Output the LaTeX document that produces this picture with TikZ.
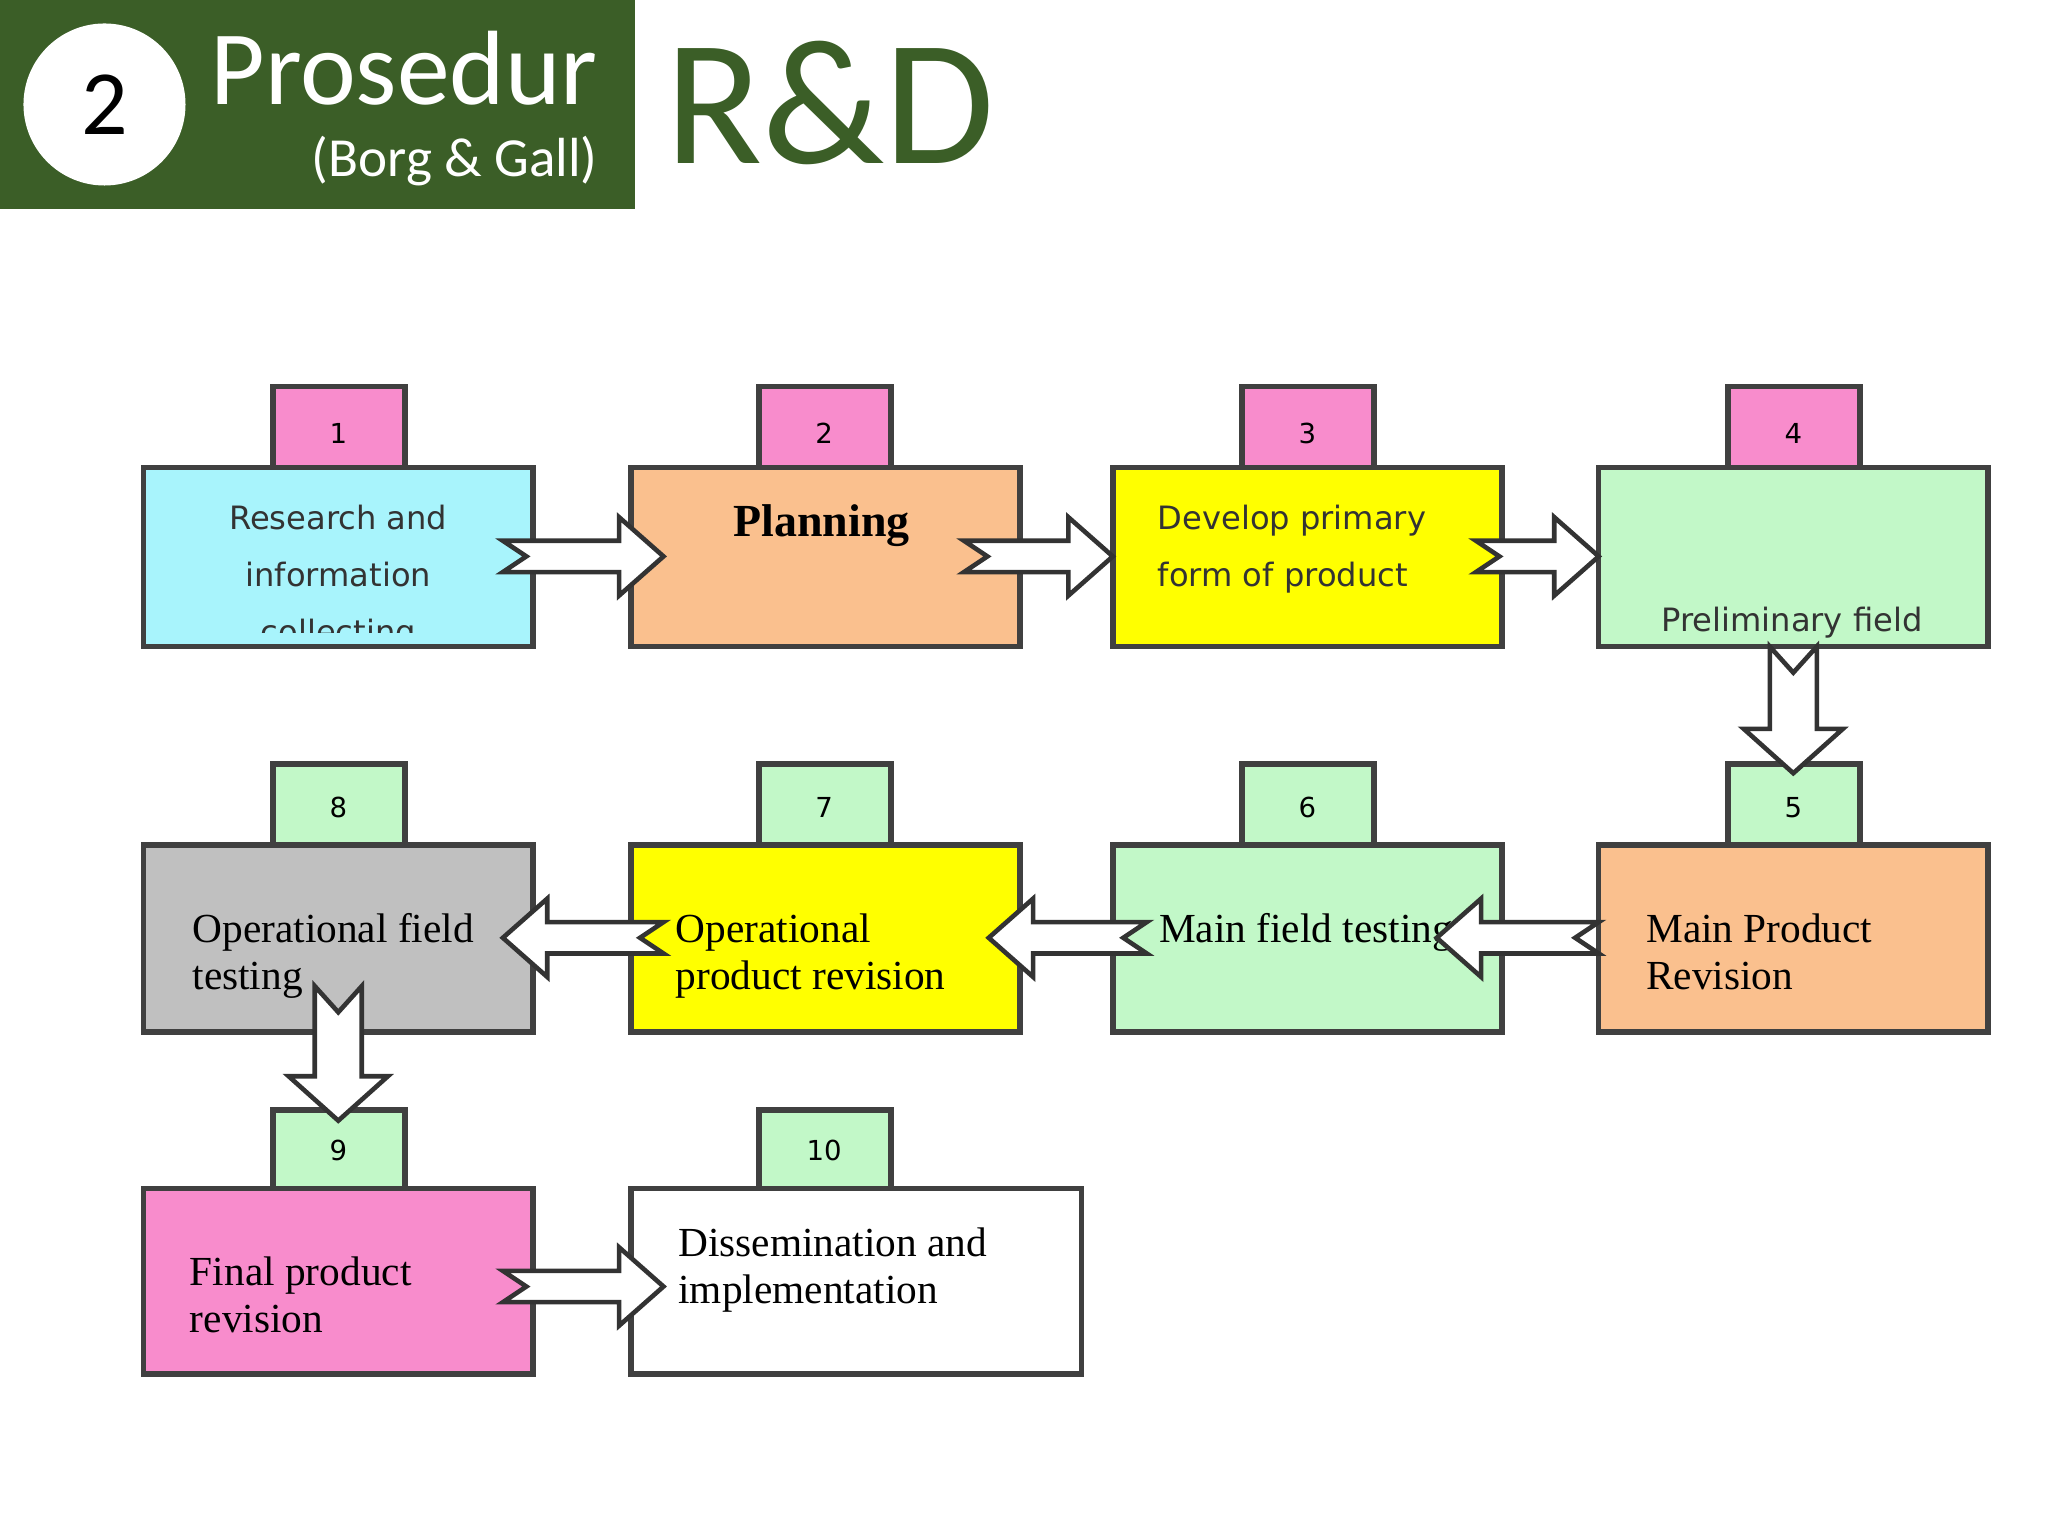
\documentclass[tikz,border=0pt]{standalone}
\usepackage{fontspec}
\setmainfont{Liberation Serif}
\newfontfamily\hdr{Carlito}
\newfontfamily\sns{DejaVu Sans}
\definecolor{hgreen}{HTML}{3B5E27}
\definecolor{cyanb}{HTML}{A8F4FC}
\definecolor{peach}{HTML}{FAC08E}
\definecolor{yel}{HTML}{FFFF00}
\definecolor{lgreen}{HTML}{C2F8C8}
\definecolor{pinkb}{HTML}{F88CCC}
\definecolor{grayb}{HTML}{C0C0C0}
\tikzset{
 box/.style={draw=black!75,line width=1.2pt,rectangle,inner sep=0pt},
 blk/.style={draw=black!80,fill=white,line width=1pt,line join=miter},
 tx/.style={font=\sns\fontsize{7}{12.5}\selectfont,align=left,anchor=north west,text=black!80},
 sx/.style={font=\fontsize{9}{10.2}\selectfont,align=left,anchor=north west},
 num/.style={font=\sns\fontsize{6}{7}\selectfont}
}
\newcommand{\harr}[3]{%
 \pgfmathsetmacro{\dir}{(#2>#1)?1:-1}%
 \pgfmathsetmacro{\hb}{#2-\dir*34}%
 \pgfmathsetmacro{\nt}{#1+\dir*18}%
 \draw[blk] (#1,#3-12) -- (\hb,#3-12) -- (\hb,#3-30) -- (#2,#3) -- (\hb,#3+30) -- (\hb,#3+12) -- (#1,#3+12) -- (\nt,#3) -- cycle;}
\newcommand{\varr}[3]{%
 \pgfmathsetmacro{\hb}{#3-34}%
 \pgfmathsetmacro{\nt}{#2+20}%
 \draw[blk] (#1-18,#2) -- (#1-18,\hb) -- (#1-38,\hb) -- (#1,#3) -- (#1+38,\hb) -- (#1+18,\hb) -- (#1+18,#2) -- (#1,\nt) -- cycle;}
\begin{document}
\begin{tikzpicture}[x=0.01cm,y=-0.01cm]
\useasboundingbox (0,0) rectangle (1568,1176);
\fill[hgreen] (0,0) rectangle (486,160);
\node[circle,fill=white,minimum size=1.24cm,inner sep=0pt] (c) at (80,80) {};
\node[font=\hdr\fontsize{20}{20}\selectfont] (n2) at (80,80) {2};
\node[font=\hdr\fontsize{23}{23}\selectfont,text=white,anchor=base east] (pr) at (470,80) {Prosedur};
\node[font=\hdr\fontsize{12}{12}\selectfont,text=white,anchor=base east] (bg) at (470,135) {(Borg \& Gall)};
\node[font=\hdr\fontsize{39}{39}\selectfont,text=hgreen,anchor=base west] (rd) at (497,125) {R\&D};
\foreach \x/\c in {110/cyanb,483/peach,852/yel,1224/lgreen}{
 \draw[box,fill=\c] (\x,358) rectangle ++(298,137);}
\foreach \n/\x/\t in {t1/209/1,t2/581/2,t3/951/3,t4/1323/4}{
 \draw[box,fill=pinkb] (\x,296) rectangle ++(101,62);
 \node[num] (\n) at (\x+50,332) {\t};}
\foreach \x/\c in {110/grayb,483/yel,852/lgreen,1224/peach}{
 \draw[box,fill=\c] (\x,647) rectangle ++(298,143);}
\foreach \n/\x/\t in {t8/209/8,t7/581/7,t6/951/6,t5/1323/5}{
 \draw[box,fill=lgreen] (\x,585) rectangle ++(101,62);
 \node[num] (\n) at (\x+50,618) {\t};}
\draw[box,fill=pinkb] (110,910) rectangle (408,1052);
\draw[box,fill=white] (483,910) rectangle (828,1052);
\draw[box,fill=lgreen] (209,850) rectangle ++(101,60);
\node[num] (t9) at (259,881) {9};
\draw[box,fill=lgreen] (581,850) rectangle ++(101,60);
\node[num] (t10) at (631,881) {10};
\begin{scope}
\clip (110,358) rectangle (408,484);
\node[tx,align=center,anchor=north] (x1) at (259,374) {Research and\\information\\collecting};
\end{scope}
\node[sx,font=\bfseries\fontsize{10}{12}\selectfont,anchor=north] (x2) at (629,374) {Planning};
\node[tx] (x3) at (874,374) {Develop primary\\form of product};
\node[tx,anchor=north] (x4) at (1372,452) {Preliminary field};
\node[sx] (x5) at (1248,687) {Main Product\\Revision};
\node[sx] (x6) at (875,687) {Main field testing};
\node[sx] (x7) at (505,687) {Operational\\product revision};
\node[sx] (x8) at (135,687) {Operational field\\testing};
\node[sx] (x9) at (133,950) {Final product\\revision};
\node[sx] (x10) at (507,928) {Dissemination and\\implementation};
\harr{385}{508}{426}
\harr{738}{852}{426}
\harr{1130}{1224}{426}
\varr{1373}{495}{592}
\harr{1224}{1100}{718}
\harr{878}{757}{718}
\harr{508}{385}{718}
\varr{259}{755}{858}
\harr{385}{508}{985}
\end{tikzpicture}
\end{document}
